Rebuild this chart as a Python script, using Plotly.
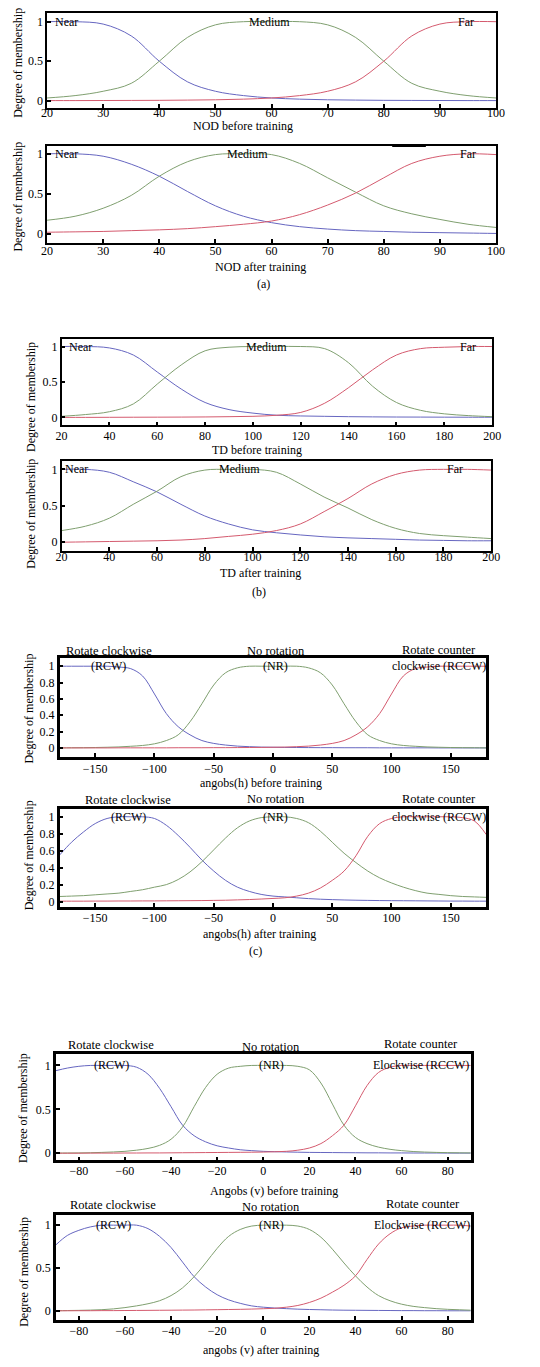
import plotly.graph_objects as go

# the page body has an 8 px margin, so the figure is drawn 8 px smaller
PAGE_W, PAGE_H = 540, 1367
OFF = 8
W, H = PAGE_W - OFF, PAGE_H - OFF

BLUE = '#6666c0'
GREEN = '#7f9f6f'
RED = '#d45a6e'

# ---- (a) NOD ----
nod_x = [20, 25, 30, 35, 40, 45, 50, 55, 60, 65, 70, 75, 80, 85, 90, 95, 100]
nod_before_near = [1.0, 1.0, 0.97, 0.82, 0.5, 0.24, 0.12, 0.065, 0.035, 0.02, 0.012, 0.008, 0.005, 0.004, 0.003, 0.002, 0.002]
nod_before_medium = [0.035, 0.065, 0.12, 0.22, 0.5, 0.8, 0.96, 1.0, 1.0, 1.0, 0.96, 0.8, 0.5, 0.22, 0.12, 0.065, 0.035]
nod_before_far = [0.002, 0.002, 0.003, 0.004, 0.005, 0.008, 0.012, 0.02, 0.035, 0.065, 0.12, 0.24, 0.5, 0.82, 0.97, 1.0, 1.0]
nod_after_near = [1.0, 1.0, 0.97, 0.87, 0.72, 0.53, 0.35, 0.22, 0.14, 0.09, 0.06, 0.04, 0.03, 0.02, 0.015, 0.01, 0.005]
nod_after_medium = [0.17, 0.22, 0.32, 0.48, 0.72, 0.9, 0.99, 1.0, 0.99, 0.88, 0.7, 0.52, 0.35, 0.25, 0.18, 0.12, 0.08]
nod_after_far = [0.02, 0.025, 0.03, 0.04, 0.05, 0.065, 0.09, 0.12, 0.16, 0.24, 0.36, 0.51, 0.7, 0.88, 0.97, 1.0, 0.99]

# ---- (b) TD ----
td_x = [20, 30, 40, 50, 60, 70, 80, 90, 100, 110, 120, 130, 140, 150, 160, 170, 180, 190, 200]
td_before_near = [1.0, 1.0, 0.98, 0.88, 0.64, 0.4, 0.21, 0.11, 0.06, 0.03, 0.02, 0.015, 0.01, 0.007, 0.005, 0.004, 0.003, 0.002, 0.002]
td_before_medium = [0.015, 0.04, 0.08, 0.19, 0.47, 0.74, 0.94, 0.99, 1.0, 1.0, 1.0, 0.97, 0.77, 0.44, 0.21, 0.1, 0.05, 0.025, 0.01]
td_before_far = [0.0, 0.0, 0.001, 0.002, 0.003, 0.004, 0.006, 0.01, 0.015, 0.03, 0.07, 0.2, 0.42, 0.67, 0.88, 0.97, 0.99, 1.0, 1.0]
td_after_near = [1.0, 1.0, 0.96, 0.83, 0.69, 0.52, 0.36, 0.25, 0.17, 0.13, 0.1, 0.075, 0.06, 0.05, 0.04, 0.03, 0.025, 0.02, 0.02]
td_after_medium = [0.16, 0.22, 0.33, 0.52, 0.7, 0.9, 0.99, 1.0, 1.0, 0.96, 0.8, 0.62, 0.47, 0.31, 0.19, 0.12, 0.09, 0.07, 0.05]
td_after_far = [0.0, 0.005, 0.01, 0.015, 0.02, 0.03, 0.05, 0.08, 0.11, 0.16, 0.25, 0.42, 0.6, 0.8, 0.93, 0.99, 1.0, 1.0, 0.99]

# ---- (c) angobs(h) ----
angh_x = [-180, -170, -160, -150, -140, -130, -120, -110, -100, -90, -80, -70, -60, -50, -40, -30, -20, -10, 0,
          10, 20, 30, 40, 50, 60, 70, 80, 90, 100, 110, 120, 130, 140, 150, 160, 170, 180]
angh_before_rcw = [1.0, 1.0, 1.0, 1.0, 1.0, 0.99, 0.97, 0.88, 0.66, 0.42, 0.26, 0.16, 0.09, 0.055, 0.035, 0.022, 0.015, 0.01, 0.008,
                   0.006, 0.005, 0.004, 0.003, 0.003, 0.002, 0.002, 0.002, 0.001, 0.001, 0.001, 0.001, 0.001, 0.0, 0.0, 0.0, 0.0, 0.0]
angh_before_nr = [0.0, 0.002, 0.003, 0.005, 0.008, 0.012, 0.02, 0.03, 0.05, 0.09, 0.16, 0.32, 0.54, 0.77, 0.92, 0.98, 1.0, 1.0, 1.0,
                  1.0, 1.0, 0.98, 0.92, 0.77, 0.54, 0.32, 0.16, 0.09, 0.05, 0.03, 0.02, 0.012, 0.008, 0.005, 0.003, 0.002, 0.0]
angh_before_rccw = [0.0, 0.0, 0.0, 0.0, 0.0, 0.001, 0.001, 0.001, 0.001, 0.001, 0.002, 0.002, 0.002, 0.003, 0.003, 0.004, 0.005, 0.006, 0.008,
                    0.01, 0.015, 0.022, 0.035, 0.055, 0.09, 0.16, 0.26, 0.42, 0.66, 0.88, 0.97, 0.99, 1.0, 1.0, 1.0, 1.0, 1.0]
angh_after_rcw = [0.55, 0.7, 0.82, 0.92, 0.98, 1.0, 1.0, 1.0, 0.98, 0.9, 0.78, 0.64, 0.49, 0.36, 0.25, 0.17, 0.12, 0.085, 0.065,
                  0.055, 0.045, 0.035, 0.028, 0.023, 0.019, 0.016, 0.014, 0.012, 0.011, 0.01, 0.009, 0.008, 0.007, 0.006, 0.006, 0.005, 0.005]
angh_after_nr = [0.06, 0.065, 0.07, 0.08, 0.09, 0.1, 0.12, 0.14, 0.17, 0.2, 0.26, 0.35, 0.47, 0.61, 0.75, 0.87, 0.95, 0.99, 1.0,
                 1.0, 0.98, 0.93, 0.83, 0.7, 0.57, 0.46, 0.36, 0.28, 0.22, 0.17, 0.13, 0.1, 0.085, 0.07, 0.06, 0.055, 0.05]
angh_after_rccw = [0.005, 0.005, 0.005, 0.006, 0.006, 0.007, 0.007, 0.008, 0.008, 0.009, 0.01, 0.011, 0.012, 0.014, 0.016, 0.02, 0.024, 0.03, 0.037,
                   0.045, 0.065, 0.1, 0.16, 0.25, 0.36, 0.54, 0.77, 0.92, 0.98, 1.0, 1.0, 1.0, 1.0, 1.0, 0.99, 0.95, 0.79]

# ---- (d) angobs(v) ----
angv_x = [-90, -85, -80, -75, -70, -65, -60, -55, -50, -45, -40, -35, -30, -25, -20, -15, -10, -5, 0,
          5, 10, 15, 20, 25, 30, 35, 40, 45, 50, 55, 60, 65, 70, 75, 80, 85, 90]
angv_before_rcw = [0.94, 0.97, 0.99, 1.0, 1.0, 1.0, 1.0, 0.98, 0.9, 0.74, 0.53, 0.32, 0.2, 0.13, 0.085, 0.06, 0.04, 0.03, 0.022,
                   0.018, 0.015, 0.012, 0.01, 0.009, 0.008, 0.007, 0.006, 0.005, 0.005, 0.004, 0.004, 0.003, 0.003, 0.003, 0.002, 0.002, 0.002]
angv_before_nr = [0.002, 0.003, 0.004, 0.006, 0.01, 0.015, 0.022, 0.035, 0.055, 0.09, 0.16, 0.3, 0.53, 0.75, 0.9, 0.97, 0.99, 1.0, 1.0,
                  1.0, 1.0, 0.99, 0.95, 0.8, 0.56, 0.32, 0.18, 0.11, 0.07, 0.045, 0.03, 0.02, 0.014, 0.01, 0.007, 0.005, 0.004]
angv_before_rccw = [0.001, 0.001, 0.001, 0.002, 0.002, 0.002, 0.003, 0.003, 0.004, 0.004, 0.005, 0.006, 0.007, 0.008, 0.009, 0.01, 0.011, 0.012, 0.014,
                    0.017, 0.022, 0.035, 0.06, 0.11, 0.2, 0.32, 0.54, 0.77, 0.92, 0.98, 1.0, 1.0, 1.0, 1.0, 1.0, 1.0, 1.0]
angv_after_rcw = [0.77, 0.88, 0.94, 0.98, 1.0, 1.0, 1.0, 1.0, 0.96, 0.87, 0.74, 0.57, 0.4, 0.28, 0.19, 0.13, 0.09, 0.06, 0.045,
                  0.035, 0.028, 0.022, 0.018, 0.015, 0.012, 0.01, 0.009, 0.008, 0.007, 0.006, 0.005, 0.005, 0.004, 0.004, 0.003, 0.003, 0.003]
angv_after_nr = [0.004, 0.006, 0.008, 0.011, 0.016, 0.025, 0.04, 0.06, 0.085, 0.12, 0.18, 0.27, 0.4, 0.56, 0.73, 0.87, 0.95, 0.99, 1.0,
                 1.0, 1.0, 0.99, 0.95, 0.86, 0.72, 0.56, 0.41, 0.28, 0.18, 0.12, 0.08, 0.055, 0.04, 0.028, 0.02, 0.015, 0.01]
angv_after_rccw = [0.003, 0.003, 0.004, 0.004, 0.005, 0.005, 0.006, 0.007, 0.008, 0.009, 0.01, 0.011, 0.012, 0.014, 0.016, 0.018, 0.02, 0.023, 0.027,
                   0.032, 0.045, 0.065, 0.1, 0.15, 0.22, 0.3, 0.41, 0.6, 0.78, 0.9, 0.97, 0.99, 1.0, 1.0, 1.0, 1.0, 0.99]

panels = [
    # box in page px (l, r, t, b); sd = x tick label standoff
    dict(x=nod_x, ys=[nod_before_near, nod_before_medium, nod_before_far],
         box=(42, 504, 13, 108), xr=[20, 100], yr=[-0.09, 1.11],
         xt=list(range(20, 101, 10)), yt=[0, 0.5, 1], lw=1.5, sd=-7),
    dict(x=nod_x, ys=[nod_after_near, nod_after_medium, nod_after_far],
         box=(42, 504, 146, 243), xr=[20, 100], yr=[-0.11, 1.1],
         xt=list(range(20, 101, 10)), yt=[0, 0.5, 1], lw=1.5, sd=-4),
    dict(x=td_x, ys=[td_before_near, td_before_medium, td_before_far],
         box=(57, 500, 339, 426), xr=[20, 200], yr=[-0.113, 1.113],
         xt=list(range(20, 201, 20)), yt=[0, 0.5, 1], lw=1.5, sd=-2),
    dict(x=td_x, ys=[td_after_near, td_after_medium, td_after_far],
         box=(57, 499, 462, 552), xr=[20, 200], yr=[-0.123, 1.11],
         xt=list(range(20, 201, 20)), yt=[0, 0.5, 1], lw=1.5, sd=-6),
    dict(x=angh_x, ys=[angh_before_rcw, angh_before_nr, angh_before_rccw],
         box=(55, 494, 659, 758), xr=[-180, 180], yr=[-0.11, 1.1],
         xt=[-150, -100, -50, 0, 50, 100, 150], yt=[0, 0.2, 0.4, 0.6, 0.8, 1], lw=2.5, sd=-1),
    dict(x=angh_x, ys=[angh_after_rcw, angh_after_nr, angh_after_rccw],
         box=(55, 494, 810, 908), xr=[-180, 180], yr=[-0.06, 1.094],
         xt=[-150, -100, -50, 0, 50, 100, 150], yt=[0, 0.2, 0.4, 0.6, 0.8, 1], lw=2.5, sd=-2),
    dict(x=angv_x, ys=[angv_before_rcw, angv_before_nr, angv_before_rccw],
         box=(51, 478, 1056, 1162), xr=[-90, 90], yr=[-0.08, 1.125],
         xt=list(range(-80, 81, 20)), yt=[0, 0.5, 1], lw=2.5, sd=-2),
    dict(x=angv_x, ys=[angv_after_rcw, angv_after_nr, angv_after_rccw],
         box=(51, 478, 1217, 1322), xr=[-90, 90], yr=[-0.105, 1.116],
         xt=list(range(-80, 81, 20)), yt=[0, 0.5, 1], lw=2.5, sd=-2),
]

x_titles = [
    ('NOD before training', 244, 126), ('NOD after training', 262, 267),
    ('TD before training', 258, 451), ('TD after training', 262, 574),
    ('angobs(h) before training', 262, 784), ('angobs(h) after training', 261, 935),
    ('Angobs (v) before training', 276, 1193), ('angobs (v) after training', 262, 1352),
]
y_title_pos = [(12, 63), (12, 197), (26, 397), (26, 514), (23, 710), (23, 857), (18, 1110), (18, 1274)]
captions = [('(a)', 265, 284), ('(b)', 260, 593), ('(c)', 256, 952)]

line_labels = [
    (0, 'Near', 21, 'left'), (0, 'Medium', 59.6, 'center'), (0, 'Far', 94.7, 'center'),
    (1, 'Near', 21, 'left'), (1, 'Medium', 55.7, 'center'), (1, 'Far', 95, 'center'),
    (2, 'Near', 22.4, 'left'), (2, 'Medium', 105.8, 'center'), (2, 'Far', 190, 'center'),
    (3, 'Near', 20.4, 'left'), (3, 'Medium', 94.7, 'center'), (3, 'Far', 185, 'center'),
    (4, '(RCW)', -139, 'center'), (4, '(NR)', 2.5, 'center'), (4, 'clockwise (RCCW)', 140, 'center'),
    (5, '(RCW)', -122, 'center'), (5, '(NR)', 2.5, 'center'), (5, 'clockwise (RCCW)', 140, 'center'),
    (6, '(RCW)', -66, 'center'), (6, '(NR)', 3.4, 'center'), (6, 'Elockwise (RCCW)', 68.6, 'center'),
    (7, '(RCW)', -65, 'center'), (7, '(NR)', 3.4, 'center'), (7, 'Elockwise (RCCW)', 69, 'center'),
]
top_labels = [
    (4, 'Rotate clockwise', -138, 652), (4, 'No rotation', 2.7, 652), (4, 'Rotate counter', 140, 651),
    (5, 'Rotate clockwise', -122, 801), (5, 'No rotation', 2.5, 800), (5, 'Rotate counter', 140, 800),
    (6, 'Rotate clockwise', -66, 1047), (6, 'No rotation', 3.4, 1049), (6, 'Rotate counter', 68.6, 1046),
    (7, 'Rotate clockwise', -65, 1207), (7, 'No rotation', 3.4, 1209), (7, 'Rotate counter', 69.5, 1206),
]


def px_x(p):
    return (p - OFF) / W


def px_y(p):
    return 1 - (p - OFF) / H


fig = go.Figure()
layout = {}
for i, p in enumerate(panels):
    n = '' if i == 0 else str(i + 1)
    for ys, col in zip(p['ys'], [BLUE, GREEN, RED]):
        fig.add_trace(go.Scatter(
            x=p['x'], y=ys, mode='lines', xaxis='x' + n, yaxis='y' + n,
            line=dict(color=col, width=1, shape='spline', smoothing=1.0),
            showlegend=False, hoverinfo='skip'
        ))
    l, r, t, b = p['box']
    common = dict(showline=True, linecolor='black', linewidth=p['lw'], mirror=True,
                  ticks='inside', ticklen=4, tickwidth=1.5, tickcolor='black',
                  showgrid=False, zeroline=False, tickfont=dict(size=12, color='black'))
    layout['xaxis' + n] = dict(domain=[px_x(l), px_x(r)], range=p['xr'], anchor='y' + n,
                               tickvals=p['xt'], ticklabelstandoff=p['sd'], **common)
    layout['yaxis' + n] = dict(domain=[px_y(b), px_y(t)], range=p['yr'], anchor='x' + n,
                               tickvals=p['yt'], ticktext=[('%g' % v) for v in p['yt']], **common)

annotations = []
for text, x, y in x_titles + captions:
    annotations.append(dict(text=text, x=px_x(x), y=px_y(y), xref='paper', yref='paper',
                            showarrow=False, xanchor='center', yanchor='middle', font=dict(size=12)))
for x, y in y_title_pos:
    annotations.append(dict(text='Degree of membership', x=px_x(x), y=px_y(y), xref='paper', yref='paper',
                            showarrow=False, textangle=-90, xanchor='center', yanchor='middle',
                            font=dict(size=12)))
for i, text, x, anchor in line_labels:
    n = '' if i == 0 else str(i + 1)
    annotations.append(dict(text=text, x=x, y=1.0, xref='x' + n, yref='y' + n, showarrow=False,
                            xanchor=anchor, yanchor='middle', font=dict(size=12)))
for i, text, x, y in top_labels:
    n = '' if i == 0 else str(i + 1)
    annotations.append(dict(text=text, x=x, y=px_y(y), xref='x' + n, yref='paper', showarrow=False,
                            xanchor='center', yanchor='middle', font=dict(size=12.5)))

# short thick stroke on the top frame of the second panel, as in the scan
shapes = [dict(type='line', xref='x2', yref='y2 domain', x0=81.5, x1=87.5, y0=1, y1=1,
               line=dict(color='black', width=2.5))]

fig.update_layout(
    width=W, height=H,
    margin=dict(l=0, r=0, t=0, b=0),
    paper_bgcolor='white', plot_bgcolor='white',
    font=dict(family='Liberation Serif, Times New Roman, serif', color='black'),
    annotations=annotations,
    shapes=shapes,
    **layout
)

fig.write_html("out.html")
